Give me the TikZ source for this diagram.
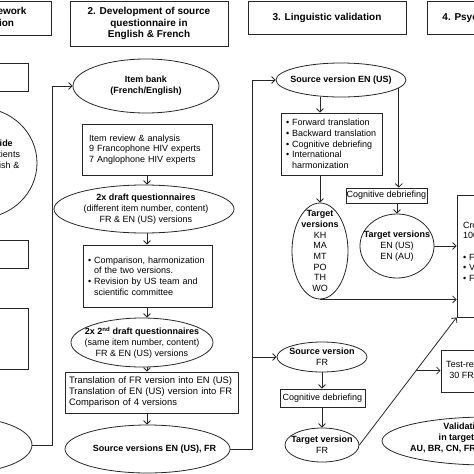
\documentclass[tikz,border=0pt]{standalone}
\usepackage{fontspec}
\setmainfont{Liberation Sans}
\usetikzlibrary{shapes.geometric,arrows.meta,calc}
\definecolor{linec}{gray}{0.15}
\newcommand{\fsbody}{\fontsize{9}{10.7}\selectfont}
\newcommand{\fshead}{\fontsize{10}{11.5}\selectfont\bfseries}
\newcommand{\bul}{\textbullet\ }
\newcommand{\bulind}{\phantom{\textbullet\ }}
\begin{document}
\begin{tikzpicture}[x=1pt,y=-1pt,
  box/.style={draw=linec, line width=0.8pt, inner sep=0pt, font=\fsbody, align=center},
  head/.style={box, font=\fshead},
  ell/.style={draw=linec, line width=0.8pt, ellipse, inner sep=0pt},
  lab/.style={font=\fsbody, align=center, inner sep=0pt},
  blab/.style={lab, font=\fsbody\bfseries},
  arr/.style={draw=linec, line width=0.8pt, -{Straight Barb[length=3.5pt,width=7pt]}},
]
\useasboundingbox (0,0) rectangle (474,474);
\clip (0,0) rectangle (474,474);

% headers
\node[head, minimum width=169pt, minimum height=34pt] (h1) at (-33.5,18) {1. Conceptual framework\\and item generation};
\node[head, minimum width=158pt, minimum height=45pt] (h2) at (149,23.5) {2. Development of source\\questionnaire in\\English \& French};
\node[head, minimum width=158pt, minimum height=33pt] (h3) at (327,17.5) {3. Linguistic validation};
\node[head, minimum width=158pt, minimum height=33pt] (h4) at (506,17.5) {4. Psychometric validation};

% column 1
\node[box, minimum width=148pt, minimum height=28pt] (l1) at (-46,77) {};
\node[ell, minimum width=114pt, minimum height=110pt,
  label={[lab, yshift=3.5pt]center:{\textbf{Interview guide}\\with 30 HIV patients\\in Khmer, English \&\\French}}] (l2) at (-20,163) {};
\node[box, minimum width=148pt, minimum height=28pt] (l3) at (-46,254) {};
\node[box, minimum width=148pt, minimum height=61pt] (l4) at (-46,338.5) {};
\node[ell, minimum width=144pt, minimum height=56pt] (l5) at (-40,445) {};

% column 2
\node[ell, minimum width=146pt, minimum height=54pt,
  label={[blab]center:{Item bank\\(French/English)}}] (ib) at (146,86) {};
\node[box, align=left, inner xsep=7pt, text width=116pt, minimum height=51pt] (rev) at (147,149.5)
  {Item review \& analysis\\9 Francophone HIV experts\\7 Anglophone HIV experts};
\node[ell, minimum width=180pt, minimum height=48pt,
  label={[lab, xshift=2pt]center:{\textbf{2x draft questionnaires}\\(different item number, content)\\FR \& EN (US) versions}}] (d1) at (144,209) {};
\node[box, align=left, inner xsep=5pt, text width=119pt, minimum height=62pt] (cmp) at (147.5,276)
  {\bul Comparison, harmonization\\\bulind of the two versions.\\\bul Revision by US team and\\\bulind scientific committee};
\node[ell, minimum width=142pt, minimum height=49pt,
  label={[lab]center:{\textbf{2x 2\textsuperscript{nd} draft questionnaires}\\(same item number, content)\\FR \& EN (US) versions}}] (d2) at (142,342.5) {};
\node[box, align=left, inner xsep=4pt, text width=165pt, minimum height=41pt, font=\fontsize{9.4}{11}\selectfont] (trans) at (151.5,392.5)
  {Translation of FR version into EN (US)\\Translation of EN (US) version into FR\\Comparison of 4 versions};
\node[ell, minimum width=165pt, minimum height=48pt,
  label={[blab, xshift=7pt]center:{Source versions EN (US), FR}}] (src) at (147.5,449) {};

% column 3
\node[ell, minimum width=130pt, minimum height=34pt,
  label={[blab]center:{Source version EN (US)}}] (srcEN) at (341,80) {};
\node[box, align=left, inner xsep=5pt, text width=91pt, minimum height=62pt] (ft) at (331.5,144)
  {\bul Forward translation\\\bul Backward translation\\\bul Cognitive debriefing\\\bul International\\\bulind harmonization};
\node[ell, minimum width=56pt, minimum height=96pt,
  label={[lab]center:{\textbf{Target}\\\textbf{versions}\\KH\\MA\\MT\\PO\\TH\\WO}}] (tv) at (320,251) {};
\node[box, minimum width=81pt, minimum height=15pt] (cd1) at (386.5,195.5) {Cognitive debriefing};
\node[ell, minimum width=74pt, minimum height=64pt,
  label={[lab]center:{\textbf{Target versions}\\EN (US)\\EN (AU)}}] (tven) at (397,246) {};
\node[ell, minimum width=90pt, minimum height=30pt,
  label={[lab]center:{\textbf{Source version}\\FR}}] (srcFR) at (322,357) {};
\node[box, minimum width=85pt, minimum height=18pt] (cd2) at (322.5,398) {Cognitive debriefing};
\node[ell, minimum width=74pt, minimum height=34pt,
  label={[lab]center:{\textbf{Target version}\\FR}}] (tfr) at (322,445) {};

% column 4
\node[box, minimum width=163pt, minimum height=122pt,
  label={[lab, align=left, text width=151pt, yshift=3.5pt]center:{Cross-sectional study\\1000 patients\\\mbox{}\\\bul Factor analysis\\\bul Validity\\\bul Feasibility}}] (crit) at (538.5,256) {};
\node[box, minimum width=90pt, minimum height=42pt] (test) at (486,371) {Test-retest reliability\\30 FR participants};
\node[ell, minimum width=210pt, minimum height=48pt,
  label={[blab, yshift=3pt, xshift=-9pt]center:{Validation study\\in target countries\\AU, BR, CN, FR, KH, SN, TH, US}}] (val) at (487,441) {};

% connectors
\coordinate (c2) at (52,86);
\draw[arr] (l5.east) -| (c2) -- (ib.west);
\draw[arr] (rev.south) -- (d1.north -| rev.south);
\draw[arr] (d1.south -| rev.south) -- (cmp.north -| rev.south);
\draw[arr] (cmp.south -| rev.south) -- (d2.north -| rev.south);
\draw[arr] (d2.south -| rev.south) -- (trans.north -| rev.south);
\draw[arr] (trans.south -| rev.south) -- (src.north -| rev.south);

\coordinate (c3) at (252,80);
\draw[arr] (src.east) -| (c3) -- (srcEN.west);
\draw[arr] (c3 |- srcFR.west) -- (srcFR.west);
\draw[arr] (srcEN.south -| tv.north) -- (ft.north -| tv.north);
\draw[arr] (ft.south -| tv.north) -- (tv.north);
\draw[arr] (srcEN.-8) -- (srcEN.-8 |- cd1.north);
\draw[arr] (cd1.south -| tven.north) -- (tven.north);
\draw[arr] (tven.east) -- (tven.east -| crit.west);
\draw[arr] (tv.south) -- (tv.south -| crit.west);
\draw[arr] (srcFR.south) -- (cd2.north -| srcFR.south);
\draw[arr] (cd2.south -| tfr.north) -- (tfr.north);
\draw[arr] (tfr.east) -- (crit.south west);
\coordinate (bp) at ($(tfr.east)!0.583!(crit.south west)$);
\draw[arr] (bp) -- (bp -| test.west);
\end{tikzpicture}
\end{document}
